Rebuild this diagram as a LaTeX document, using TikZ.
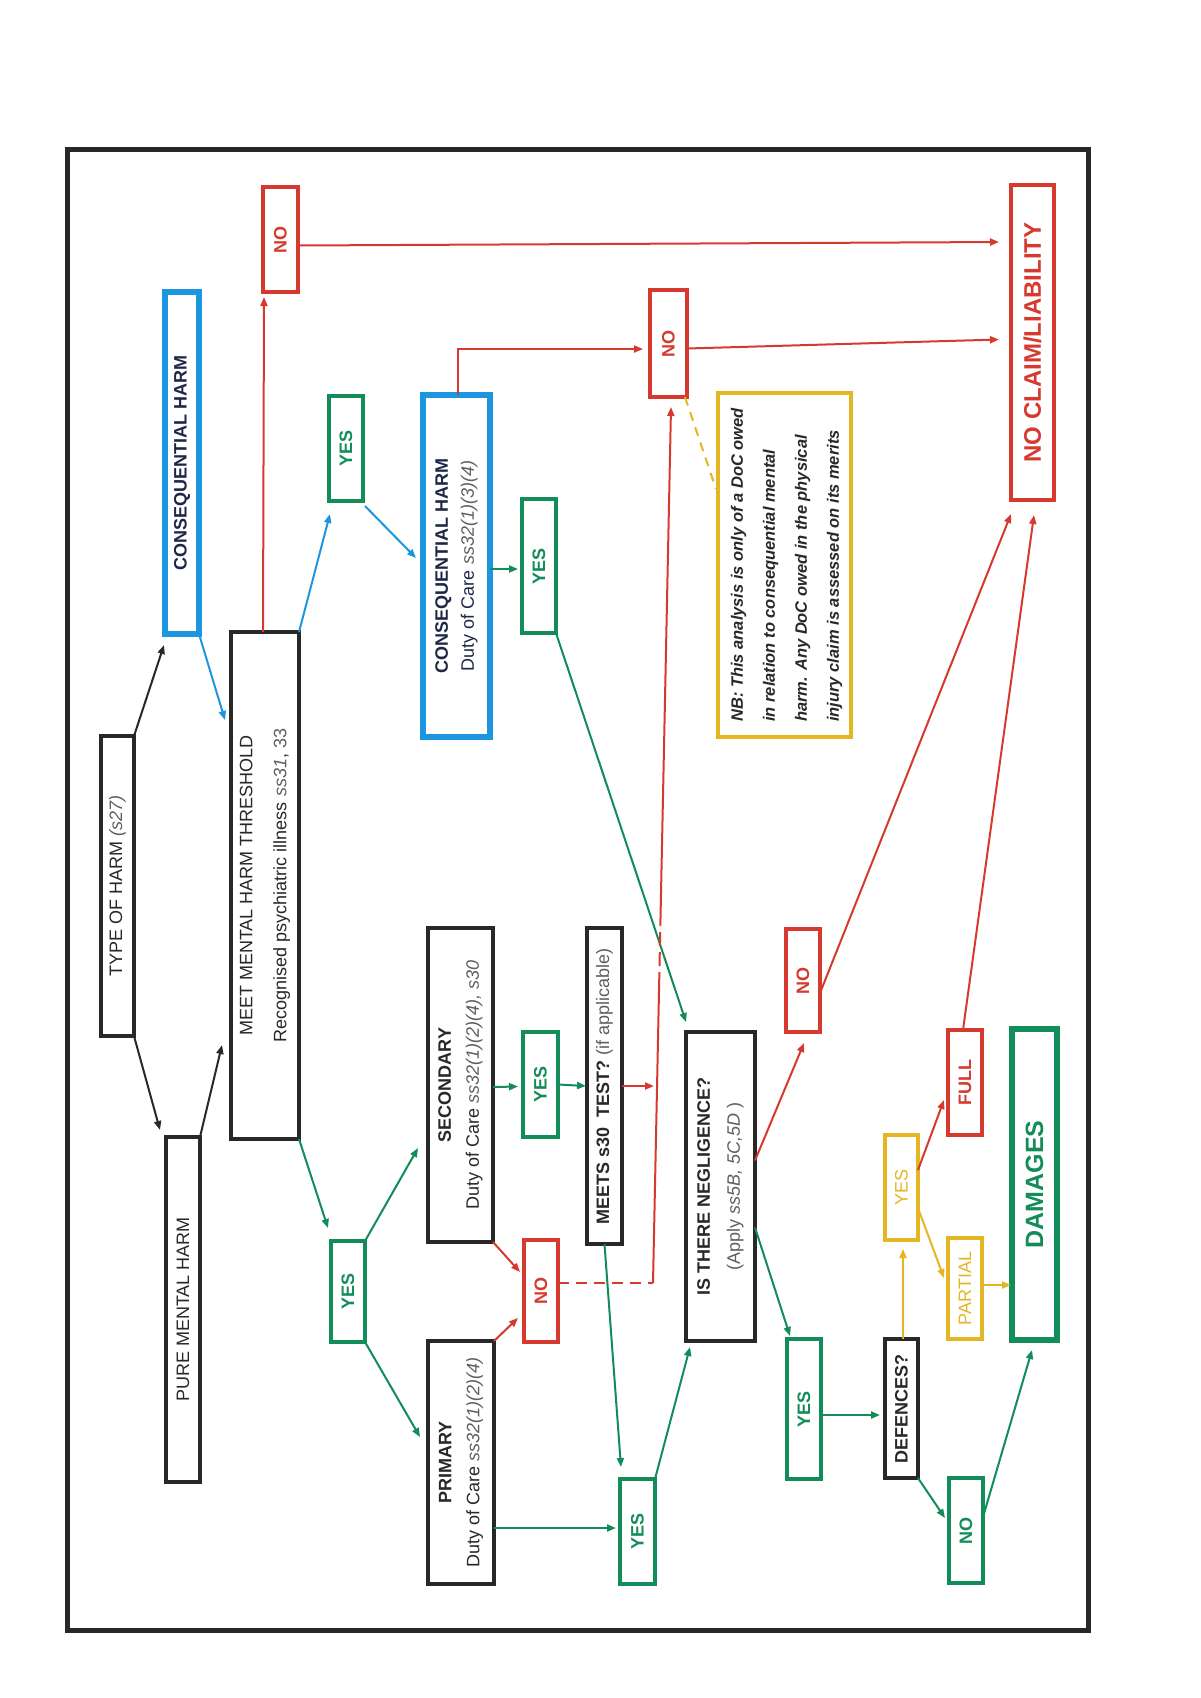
\documentclass[tikz,border=0pt]{standalone}
\usepackage{fontspec}
\usepackage{graphicx}
\setmainfont{Liberation Sans}
\usetikzlibrary{arrows.meta,calc}
\definecolor{cred}{RGB}{214,58,46}
\definecolor{cgreen}{RGB}{18,140,88}
\definecolor{cblue}{RGB}{28,150,222}
\definecolor{cgold}{RGB}{228,182,36}
\definecolor{cdark}{RGB}{40,40,40}
\definecolor{cnavy}{RGB}{30,40,70}
\definecolor{cgray}{RGB}{95,95,95}
\newcommand\mybox[7]{\node[#6, minimum width={(#4-#2)*1pt}, minimum height={(#5-#3)*1pt}] (#1) at ({(#2+#4)/2},{(#3+#5)/2}) {\rotatebox{90}{#7}};}
\newcommand\tl[1]{\begin{tabular}{@{}c@{}}#1\end{tabular}}
\begin{document}
\begin{tikzpicture}[x=1pt,y=-1pt,
  base/.style={draw, rectangle, inner sep=0pt, outer sep=0pt, font=\fontsize{18}{22}\selectfont},
  blk/.style={base, draw=cdark, line width=4pt, text=cdark},
  blu/.style={base, draw=cblue, line width=5.5pt, text=cnavy},
  redb/.style={base, draw=cred, line width=4.5pt, text=cred, font=\fontsize{18}{22}\selectfont\bfseries},
  grnb/.style={base, draw=cgreen, line width=3.5pt, text=cgreen, font=\fontsize{18}{22}\selectfont\bfseries},
  gldb/.style={base, draw=cgold, line width=3.5pt, text=cgold},
  conn/.style={line width=2pt, -{Triangle[length=9pt,width=7pt]}},
  gArr/.style={conn, draw=cgreen},
  rArr/.style={conn, draw=cred},
  bArr/.style={conn, draw=cblue},
  kArr/.style={conn, draw=cdark},
  yArr/.style={conn, draw=cgold},
  rLine/.style={line width=2pt, draw=cred}
]
\useasboundingbox (0,0) rectangle (1200,1698);
\fill[white] (0,0) rectangle (1200,1698);
\draw[line width=5pt, draw=cdark] (67,149) rectangle (1088,1630);

% nodes
\mybox{typ}{101}{736}{134}{1036}{blk}{TYPE OF HARM {\color{cgray}\itshape (s27)}}
\mybox{ch1}{165}{292}{199}{634}{blu}{\bfseries CONSEQUENTIAL HARM}
\mybox{pure}{166}{1137}{200}{1482}{blk}{PURE MENTAL HARM}
\mybox{no1}{263}{187}{298}{292}{redb}{NO}
\mybox{meet}{231}{632}{299}{1139}{blk}{\tl{MEET MENTAL HARM THRESHOLD\\[12pt] Recognised psychiatric illness {\color{cgray}\itshape ss31}, {\color{cgray}33}}}
\mybox{yes1}{329}{396}{363}{501}{grnb}{YES}
\mybox{ch2}{423}{395}{490}{737}{blu}{\tl{\bfseries CONSEQUENTIAL HARM\\[4pt] Duty of Care {\color{cgray}\itshape ss32(1)(3)(4)}}}
\mybox{yes2}{522}{499}{556}{633}{grnb}{YES}
\mybox{no2}{650}{290}{687}{397}{redb}{NO}
\node[base, draw=cgold, line width=4pt, text=cdark, minimum width=133pt, minimum height=344pt] (nb) at (784.5,565) {\rotatebox{90}{\fontsize{16.5}{32}\selectfont\bfseries\itshape\begin{tabular}{@{}l@{}}NB: This analysis is only of a DoC owed\\ in relation to consequential mental\\ harm. Any DoC owed in the physical\\ injury claim is assessed on its merits\end{tabular}}};
\mybox{noclaim}{1011}{185}{1054}{500}{base, draw=cred, line width=3.5pt, text=cred, font=\fontsize{24}{28}\selectfont\bfseries}{NO CLAIM/LIABILITY}
\mybox{sec}{428}{928}{493}{1242}{blk}{\tl{\bfseries SECONDARY\\[6pt] Duty of Care {\color{cgray}\itshape ss32(1)(2)(4), s30}}}
\mybox{yes3}{523}{1032}{558}{1137}{grnb}{YES}
\mybox{meets}{587}{928}{622}{1244}{blk}{{\bfseries MEETS s30 \ TEST?} {\color{cgray}(if applicable)}}
\mybox{no3}{524}{1240}{558}{1342}{redb}{NO}
\mybox{yes4}{331}{1241}{365}{1342}{grnb}{YES}
\mybox{prim}{428}{1341}{494}{1584}{blk}{\tl{\bfseries PRIMARY\\[6pt] Duty of Care {\color{cgray}\itshape ss32(1)(2)(4)}}}
\mybox{yes5}{620}{1479}{655}{1584}{grnb}{YES}
\mybox{neg}{686}{1032}{755}{1341}{blk}{\tl{\bfseries IS THERE NEGLIGENCE?\\[8pt] {\color{cgray}(Apply \itshape ss5B, 5C,5D\upshape\ )}}}
\mybox{no4}{786}{929}{820}{1032}{redb}{NO}
\mybox{yes6}{787}{1339}{821}{1479}{grnb}{YES}
\mybox{def}{885}{1339}{918}{1478}{blk}{\bfseries DEFENCES?}
\mybox{yesg}{885}{1135}{918}{1240}{gldb}{YES}
\mybox{partial}{948}{1238}{982}{1339}{gldb}{PARTIAL}
\mybox{full}{948}{1030}{982}{1135}{redb}{FULL}
\mybox{no5}{949}{1478}{983}{1583}{grnb}{NO}
\mybox{dam}{1012}{1029}{1057}{1340}{base, draw=cgreen, line width=5.5pt, text=cgreen, font=\fontsize{25}{30}\selectfont\bfseries}{DAMAGES}

% connectors
\draw[kArr] (typ.north east) -- ($(ch1.south west)+(-1,11)$);
\draw[kArr] (typ.south east) -- ($(pure.north west)+(-6,-7)$);
\draw[kArr] (pure.north east) -- ($(meet.south west)+(-9,-94)$);
\draw[bArr] (ch1.south east) -- ($(meet.north west)+(-6,88)$);
\draw[rArr] ($(meet.north west)+(32,0)$) -- ($(no1.south west)+(1,5)$);
\draw[rArr] ($(no1.east)+(0,6)$) -- ($(noclaim.north west)+(-12,57)$);
\draw[bArr] (meet.north east) -- ($(yes1.south west)+(1,13)$);
\draw[bArr] ($(yes1.south east)+(2,5)$) -- ($(ch2.north west)+(-7,163)$);
\draw[gArr] ($(ch2.east)+(0,3)$) -- ($(yes2.west)+(-4,3)$);
\draw[rArr] ($(ch2.north west)+(35,0)$) |- ($(no2.west)+(-7,5.5)$);
\draw[rArr] ($(no2.east)+(0,5)$) -- ($(noclaim.west)+(-12,-3)$);
\draw[line width=2pt, draw=cgold, dash pattern=on 9pt off 7pt] ($(no2.south east)+(-2,0)$) -- ($(nb.north west)+(-2,96)$);
\draw[gArr] (yes2.south east) -- ($(neg.north west)+(0,-10)$);

% red return line from secondary NO
\coordinate (rs) at ($(no3.east)+(0,-8)$);
\coordinate (rc) at ($(no3.east)+(95,-8)$);
\coordinate (rt) at ($(no2.south west)+(21,10)$);
\draw[rLine, dash pattern=on 11pt off 7pt] (rs) -- (rc);
\draw[rLine] (rc) -- ($(rc)!0.339!(rt)$);
\draw[rLine, dash pattern=on 14pt off 6pt] ($(rc)!0.339!(rt)$) -- ($(rc)!0.408!(rt)$);
\draw[rArr] ($(rc)!0.408!(rt)$) -- (rt);

\draw[gArr] ($(sec.east)+(0,2)$) -- ($(yes3.west)+(-5,2)$);
\draw[gArr] (yes3.east) -- ($(meets.west)+(-1,0)$);
\draw[rArr] (meets.east) -- ($(meets.east)+(32,0)$);
\draw[gArr] (meet.south east) -- ($(yes4.north west)+(-3,-13)$);
\draw[gArr] (yes4.north east) -- ($(sec.south west)+(-10,-94)$);
\draw[gArr] (yes4.south east) -- ($(prim.north west)+(-8,96)$);
\draw[rArr] (sec.south east) -- ($(no3.north west)+(-4,32)$);
\draw[rArr] (prim.north east) -- ($(no3.south west)+(-6,-24)$);
\draw[gArr] ($(prim.south east)+(0,-56)$) -- ($(yes5.west)+(-4,-3.5)$);
\draw[gArr] (meets.south) -- ($(yes5.north west)+(1,-12)$);
\draw[gArr] (yes5.north east) -- ($(neg.south west)+(4,6)$);
\draw[rArr] ($(neg.east)+(0,-26)$) -- ($(no4.south)+(1,11)$);
\draw[rArr] ($(no4.east)+(0,12.5)$) -- ($(noclaim.south west)+(0,14)$);
\draw[rArr] ($(full.north)+(-2,0)$) -- ($(noclaim.south)+(1.5,15)$);
\draw[gArr] ($(neg.east)+(0,41)$) -- ($(yes6.north west)+(3,-3)$);
\draw[gArr] ($(yes6.east)+(0,6)$) -- ($(def.west)+(-5,6.5)$);
\draw[yArr] ($(def.north)+(1.5,0)$) -- ($(yesg.south)+(1.5,9)$);
\draw[rArr] ($(yesg.north east)+(0,35)$) -- ($(full.west)+(-4,17.5)$);
\draw[yArr] ($(yesg.south east)+(0,-32)$) -- ($(partial.west)+(-4,-10.5)$);
\draw[yArr] ($(partial.east)+(0,-3.5)$) -- ($(dam.south west)+(-1,-55)$);
\draw[gArr] (def.south east) -- ($(no5.north west)+(-4,40)$);
\draw[gArr] ($(no5.north east)+(0,39)$) -- ($(dam.south)+(-2.5,10)$);
\end{tikzpicture}
\end{document}
